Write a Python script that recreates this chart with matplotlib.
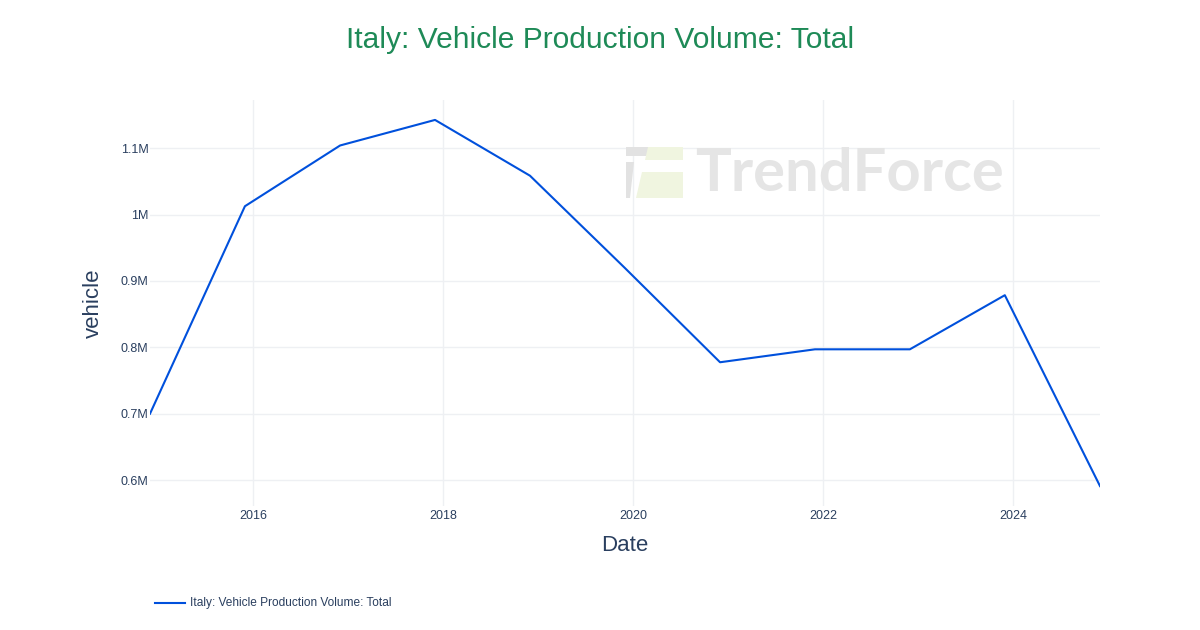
import matplotlib
matplotlib.use("Agg")
import matplotlib.pyplot as plt
import matplotlib.dates as mdates
from matplotlib.patches import Polygon
import pandas as pd

plt.rcParams['font.family'] = ['Liberation Sans', 'DejaVu Sans']

dates = pd.to_datetime([f"{y}-12-01" for y in range(2014, 2025)])
values = [700000, 1012500, 1104000, 1142500, 1058500, 919500,
          777500, 797000, 797000, 878500, 591000]
tick_years = [2016, 2018, 2020, 2022, 2024]
ytick_vals = [600000, 700000, 800000, 900000, 1000000, 1100000]
ytick_labels = ["0.6M", "0.7M", "0.8M", "0.9M", "1M", "1.1M"]
title = "Italy: Vehicle Production Volume: Total"

W, H = 1200, 630
fig = plt.figure(figsize=(12, 6.3), dpi=100)
ax = fig.add_axes([150 / W, 1 - 506 / H, 950 / W, 406 / H])

grid_c = '#eef0f3'
text_c = '#2a3f5f'

ax.plot(dates, values, color='#0050dc', lw=1.5, label=title, zorder=3, clip_on=True)
ax.set_xlim(dates[0], dates[-1])
ax.set_ylim(561000, 1172500)

ax.set_xticks([pd.Timestamp(f"{y}-01-01") for y in tick_years])
ax.xaxis.set_major_formatter(mdates.DateFormatter('%Y'))
ax.set_yticks(ytick_vals)
ax.set_yticklabels(ytick_labels)
ax.tick_params(axis='both', length=0, labelsize=9, labelcolor=text_c)
ax.tick_params(axis='x', pad=3)
ax.tick_params(axis='y', pad=1)
ax.grid(True, color=grid_c, lw=1)
for s in ax.spines.values():
    s.set_visible(False)

ax.set_xlabel("Date", fontsize=16, color=text_c, labelpad=9)
ax.set_ylabel("vehicle", fontsize=16, color=text_c, labelpad=12)

fig.text(0.5, 1 - 40 / H, title, ha='center', va='center', fontsize=21.6, color='#1e8a57')

# watermark
fig.text(695 / W, 1 - 174 / H, "TrendForce", ha='left', va='center', fontsize=43,
         fontweight='bold', color='#e5e5e5', family=['Lato', 'DejaVu Sans'], zorder=0)
def figpoly(pts, color):
    p = Polygon([(x / W, 1 - y / H) for x, y in pts], closed=True, transform=fig.transFigure,
                facecolor=color, edgecolor='none', zorder=0)
    fig.patches.append(p)
figpoly([(626, 147), (660, 147), (658, 156), (626, 156)], '#e2e2e2')
figpoly([(626, 162), (634, 162), (630, 198), (626, 198)], '#e2e2e2')
figpoly([(648, 147), (683, 147), (683, 160), (645, 160)], '#f0f5e0')
figpoly([(642, 172), (683, 172), (683, 198), (636, 198)], '#f0f5e0')

# legend
fig.add_artist(plt.Line2D([155 / W, 185 / W], [1 - 603 / H, 1 - 603 / H], color='#0050dc', lw=1.5))
fig.text(190 / W, 1 - 603 / H, title, ha='left', va='center', fontsize=8.6, color=text_c)

fig.savefig("out.png", dpi=100, facecolor='white')
